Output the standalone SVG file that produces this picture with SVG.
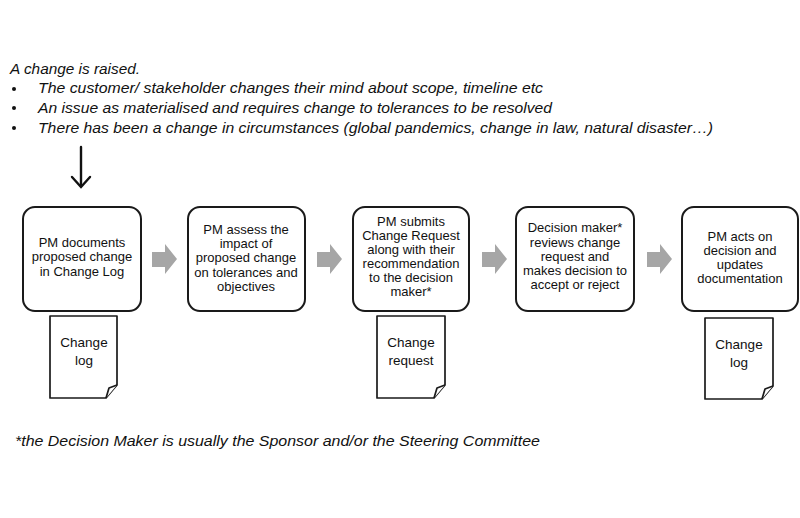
<svg xmlns="http://www.w3.org/2000/svg" width="800" height="518" viewBox="0 0 800 518">
<style>
.bg{fill:#ffffff}
.t{font-family:"Liberation Sans","DejaVu Sans",sans-serif;font-style:italic;font-size:15.5px;fill:#111111}
.b{font-family:"Liberation Sans","DejaVu Sans",sans-serif;font-size:13px;fill:#111111;text-anchor:middle}
.d{font-family:"Liberation Sans","DejaVu Sans",sans-serif;font-size:13.5px;fill:#111111;text-anchor:middle}
.box{fill:#ffffff;stroke:#1a1a1a;stroke-width:2}
.doc{fill:#ffffff;stroke:#1a1a1a;stroke-width:1.7;stroke-linejoin:round}
.ga{fill:#a6a6a6}
</style>
<rect class="bg" x="0" y="0" width="800" height="518"/>
<g id="intro">
<text class="t" x="10" y="74" textLength="130" lengthAdjust="spacingAndGlyphs">A change is raised.</text>
<circle cx="14" cy="89" r="2" fill="#111"/>
<circle cx="14" cy="108" r="2" fill="#111"/>
<circle cx="14" cy="128" r="2" fill="#111"/>
<text class="t" x="38" y="93" textLength="505" lengthAdjust="spacingAndGlyphs">The customer/ stakeholder changes their mind about scope, timeline etc</text>
<text class="t" x="38" y="113" textLength="514" lengthAdjust="spacingAndGlyphs">An issue as materialised and requires change to tolerances to be resolved</text>
<text class="t" x="38" y="133" textLength="675" lengthAdjust="spacingAndGlyphs">There has been a change in circumstances (global pandemics, change in law, natural disaster…)</text>
</g>
<g id="start-arrow" fill="none" stroke="#111" stroke-width="2.4" stroke-linecap="round">
<path d="M81,147 L81,186"/>
<path d="M72,177 L81,187 L90,177"/>
</g>
<g id="connectors">
<path class="ga" d="M152,252 L165,252 L165,244 L177,259 L165,274 L165,267 L152,267 Z"/>
<path class="ga" d="M317,252 L330,252 L330,244 L342,259 L330,274 L330,267 L317,267 Z"/>
<path class="ga" d="M482,252 L495,252 L495,244 L507,259 L495,274 L495,267 L482,267 Z"/>
<path class="ga" d="M647,252 L660,252 L660,244 L672,259 L660,274 L660,267 L647,267 Z"/>
</g>
<g id="node1">
<rect class="box" x="23" y="207" width="118" height="104" rx="12"/>
<text class="b" x="82" y="247">PM documents</text>
<text class="b" x="82" y="261">proposed change</text>
<text class="b" x="82" y="276">in Change Log</text>
</g>
<g id="node2">
<rect class="box" x="188" y="207" width="117" height="104" rx="12"/>
<text class="b" x="246" y="234">PM assess the</text>
<text class="b" x="246" y="248">impact of</text>
<text class="b" x="246" y="262">proposed change</text>
<text class="b" x="246" y="277">on tolerances and</text>
<text class="b" x="246" y="291">objectives</text>
</g>
<g id="node3">
<rect class="box" x="353" y="207" width="116" height="104" rx="12"/>
<text class="b" x="411" y="226">PM submits</text>
<text class="b" x="411" y="240">Change Request</text>
<text class="b" x="411" y="254">along with their</text>
<text class="b" x="411" y="268">recommendation</text>
<text class="b" x="411" y="282">to the decision</text>
<text class="b" x="411" y="296">maker*</text>
</g>
<g id="node4">
<rect class="box" x="516" y="207" width="118" height="104" rx="12"/>
<text class="b" x="575" y="232">Decision maker*</text>
<text class="b" x="575" y="247">reviews change</text>
<text class="b" x="575" y="261">request and</text>
<text class="b" x="575" y="275">makes decision to</text>
<text class="b" x="575" y="289">accept or reject</text>
</g>
<g id="node5">
<rect class="box" x="682" y="207" width="116" height="104" rx="12"/>
<text class="b" x="740" y="241">PM acts on</text>
<text class="b" x="740" y="255">decision and</text>
<text class="b" x="740" y="269">updates</text>
<text class="b" x="740" y="283">documentation</text>
</g>
<g id="doc1">
<path class="doc" d="M50,316 L117,316 L117,385 L106,398 L50,398 Z"/>
<path class="doc" d="M117,385 L109,388 L106,398"/>
<text class="d" x="84" y="347">Change</text>
<text class="d" x="84" y="365">log</text>
</g>
<g id="doc2">
<path class="doc" d="M377,316 L445,316 L445,385 L434,398 L377,398 Z"/>
<path class="doc" d="M445,385 L437,388 L434,398"/>
<text class="d" x="411" y="347">Change</text>
<text class="d" x="411" y="365">request</text>
</g>
<g id="doc3">
<path class="doc" d="M705,318 L773,318 L773,386 L762,399 L705,399 Z"/>
<path class="doc" d="M773,386 L765,389 L762,399"/>
<text class="d" x="739" y="349">Change</text>
<text class="d" x="739" y="367">log</text>
</g>
<g id="footnote">
<text class="t" x="15" y="446" textLength="525" lengthAdjust="spacingAndGlyphs">*the Decision Maker is usually the Sponsor and/or the Steering Committee</text>
</g>
</svg>
